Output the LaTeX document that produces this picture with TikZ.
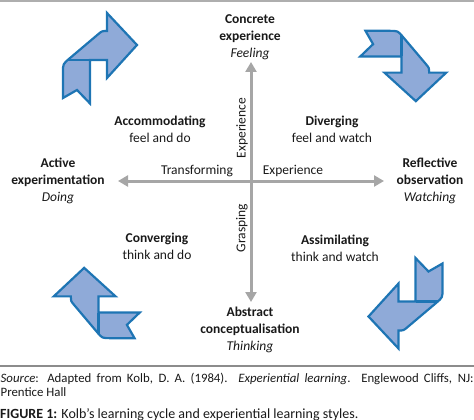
\documentclass[tikz,border=0pt]{standalone}
\usepackage{fontspec}
\setmainfont{Carlito}
\usetikzlibrary{arrows.meta}
\definecolor{arrowfill}{RGB}{143,170,216}
\definecolor{arrowline}{RGB}{30,117,180}
\definecolor{axisgray}{RGB}{166,166,166}
\definecolor{rulegray}{RGB}{140,140,140}
\definecolor{txt}{RGB}{25,25,25}
\begin{document}
\begin{tikzpicture}[x=1pt,y=-1pt,
  lbl/.style={font=\fontsize{13.5}{17}\selectfont, align=center, inner sep=0pt, text=txt},
  axlbl/.style={font=\fontsize{13.5}{17}\selectfont, inner sep=0pt, text=txt},
  axisline/.style={draw=axisgray, line width=3pt, -{Triangle[length=10pt,width=11pt]}},
  arrowstyle/.style={draw=arrowline, fill=arrowfill, line width=2.2pt, line join=miter},
  foldline/.style={draw=arrowline, line width=2.2pt},
  cyclearrow/.pic={
    \path[arrowstyle] (37,-13.5) -- (7,19.5) -- (7,1.5) -- (-10,1.5) -- (-10,45) -- (-23,31.5)
      -- (-37,39.5) -- (-37,13.5) .. controls (-37,5.5) .. (-30.9,0.3)
      -- (-1.8,-24.3) .. controls (2,-27.5) .. (7,-27.5) -- (7,-45.5) -- cycle;
    \path[foldline] (-32.3,1.5) -- (-10,1.5);
  }]
\useasboundingbox (0,0) rectangle (474,420);
% rules
\coordinate (rtl) at (0,1);
\coordinate (rtr) at (474,1);
\draw[rulegray!70, line width=2pt] (rtl) -- (rtr);
\coordinate (rbl) at (0,366);
\coordinate (rbr) at (474,366);
\draw[rulegray, line width=1.2pt] (rbl) -- (rbr);
% cycle arrows
\pic (tl) at (100,58.5) {cyclearrow};
\pic[rotate=-90, scale=0.95] (tr) at (403,66) {cyclearrow};
\pic[rotate=180] (br) at (405.5,303) {cyclearrow};
\pic[rotate=90, scale=0.95] (bl) at (97,303) {cyclearrow};
% axes
\coordinate (c) at (251,181);
\coordinate (top) at (251,62);
\coordinate (bot) at (251,302);
\coordinate (lft) at (118,181);
\coordinate (rgt) at (384,181);
\draw[axisline] (c) -- (top);
\draw[axisline] (c) -- (bot);
\draw[axisline] (c) -- (lft);
\draw[axisline] (c) -- (rgt);
% axis labels
\node[axlbl] (transf) at (197,171) {Transforming};
\node[axlbl] (exph) at (293,171) {Experience};
\node[axlbl, rotate=90] (expv) at (242,128) {Experience};
\node[axlbl, rotate=90] (grasp) at (242,228) {Grasping};
% poles
\node[lbl] (ce) at (250,37) {\textbf{Concrete}\\\textbf{experience}\\\textit{Feeling}};
\node[lbl] (ae) at (58,181) {\textbf{Active}\\\textbf{experimentation}\\\textit{Doing}};
\node[lbl] (ro) at (430,181) {\textbf{Reflective}\\\textbf{observation}\\\textit{Watching}};
\node[lbl] (ac) at (250,330) {\textbf{Abstract}\\\textbf{conceptualisation}\\\textit{Thinking}};
% styles
\node[lbl] (acc) at (160,129.5) {\textbf{Accommodating}\\feel and do};
\node[lbl] (div) at (332,129) {\textbf{Diverging}\\feel and watch};
\node[lbl] (con) at (157,246.5) {\textbf{Converging}\\think and do};
\node[lbl] (ass) at (335,248) {\textbf{Assimilating}\\think and watch};
% source and caption
\node[anchor=north west, inner sep=0pt, text width=473pt, align=justify, text=txt,
  font=\fontsize{12.8}{14}\selectfont] (src) at (0.5,373)
  {\textit{Source}: Adapted from Kolb, D. A. (1984). \textit{Experiential learning}. Englewood Cliffs, NJ:\linebreak Prentice Hall};
\node[anchor=base west, inner sep=0pt, text=txt, font=\fontsize{14}{16}\selectfont] (cap) at (0,418)
  {\textbf{FIGURE 1:} Kolb’s learning cycle and experiential learning styles.};
\end{tikzpicture}
\end{document}
